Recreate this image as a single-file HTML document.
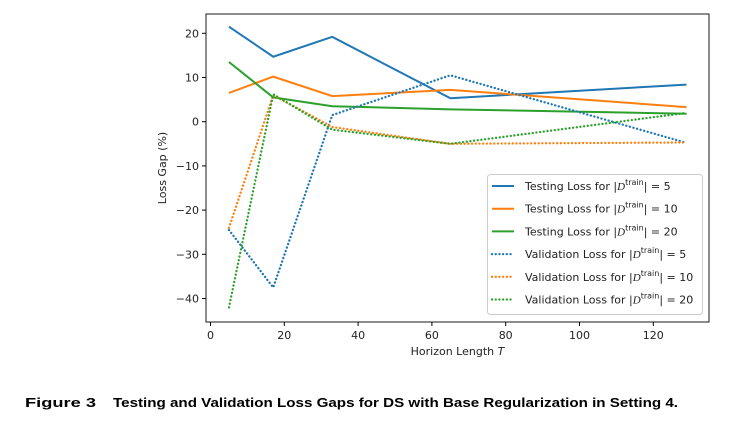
<!DOCTYPE html>
<html><head><meta charset="utf-8"><style>
body{margin:0;background:#fff;width:735px;height:423px;overflow:hidden;font-family:"DejaVu Sans","Liberation Sans",sans-serif}
</style></head><body>
<svg width="735" height="423">
<g id="plot"></g>
<text y="407" font-size="13" font-weight="bold" font-family="Liberation Sans, sans-serif"><tspan x="25" textLength="71" lengthAdjust="spacingAndGlyphs">Figure 3</tspan><tspan x="113" textLength="565" lengthAdjust="spacingAndGlyphs">Testing and Validation Loss Gaps for DS with Base Regularization in Setting 4.</tspan></text>
</svg>
<script>
const xs=[5,17,33,65,129];
const testing5=[21.5,14.7,19.2,5.3,8.4];
const testing10=[6.5,10.2,5.8,7.2,3.3];
const testing20=[13.5,5.5,3.5,2.8,1.8];
const valid5=[-24.5,-37.5,1.5,10.5,-4.8];
const valid10=[-24,6,-1.2,-5,-4.7];
const valid20=[-42,6.2,-1.8,-5,2.0];
const xTicks=[0,20,40,60,80,100,120];
const yTicks=[20,10,0,-10,-20,-30,-40];
const legendLabels=["Testing Loss for","Testing Loss for","Testing Loss for","Validation Loss for","Validation Loss for","Validation Loss for"];
const legendNs=["5","10","20","5","10","20"];
const NS="http://www.w3.org/2000/svg";
const g=document.getElementById('plot');
const X=v=>210.5+v*3.69, Y=v=>121.7-v*4.42;
const L=206,R=709,T=14,B=322;
function mk(t,a,p){const e=document.createElementNS(NS,t);for(const k in a)e.setAttribute(k,a[k]);(p||g).appendChild(e);return e;}
const cols=['#1f77b4','#ff7f0e','#2ca02c'];
const series=[[testing5,0,0],[testing10,1,0],[testing20,2,0],[valid5,0,1],[valid10,1,1],[valid20,2,1]];
const names=['testing-5','testing-10','testing-20','validation-5','validation-10','validation-20'];
const clip=mk('clipPath',{id:'c'});mk('rect',{x:L,y:T,width:R-L,height:B-T},clip);
series.forEach((s,i)=>{
 const p=mk('polyline',{points:xs.map((x,j)=>X(x)+','+Y(s[0][j])).join(' '),fill:'none',stroke:cols[s[1]],'stroke-width':2,'clip-path':'url(#c)'});
 if(s[2]){p.setAttribute('stroke-dasharray','0.1 3.6');p.setAttribute('stroke-linecap','round');p.setAttribute('stroke-width','2.3');}
 
 
});
const fr=mk('rect',{x:L,y:T,width:R-L,height:B-T,fill:'none',stroke:'#000','stroke-width':0.9});


xTicks.forEach(t=>{
 mk('line',{x1:X(t),x2:X(t),y1:B,y2:B+4,stroke:'#000'});
 const tx=mk('text',{x:X(t),y:B+17,'font-size':11,'text-anchor':'middle',fill:'#222'});tx.textContent=t;
 
 
});
yTicks.forEach(t=>{
 mk('line',{x1:L-4,x2:L,y1:Y(t),y2:Y(t),stroke:'#000'});
 const tx=mk('text',{x:L-7,y:Y(t)+4,'font-size':11,'text-anchor':'end',fill:'#222'});tx.textContent=t<0?'\u2212'+(-t):t;
 
 
});
const xl=mk('text',{x:(L+R)/2,y:355,'font-size':11,'text-anchor':'middle',fill:'#222'});xl.innerHTML='Horizon Length <tspan font-style="italic">T</tspan>';


const yl=mk('text',{x:0,y:0,'font-size':11,'text-anchor':'middle',fill:'#222',transform:'translate(166,168) rotate(-90)'});yl.textContent='Loss Gap (%)';


const lg=mk('g',{});


mk('rect',{x:487.5,y:174.5,width:215,height:140,rx:3,fill:'#fff',stroke:'#ccc'},lg);
series.forEach((s,i)=>{
 const y=186+i*22.7;
 const l=mk('line',{x1:492,x2:514,y1:y,y2:y,stroke:cols[s[1]],'stroke-width':2},lg);
 if(s[2]){l.setAttribute('stroke-dasharray','0.1 3.6');l.setAttribute('stroke-linecap','round');l.setAttribute('stroke-width','2.3');}
 const t=mk('text',{x:525,y:y+4,'font-size':11,fill:'#222'},lg);
 t.innerHTML=legendLabels[i]+' |<tspan font-family="Liberation Serif,serif" font-style="italic">D</tspan><tspan font-size="8" dy="-5">train</tspan><tspan dy="5">| = '+legendNs[i]+'</tspan>';
 
 
});
</script>
</body></html>
